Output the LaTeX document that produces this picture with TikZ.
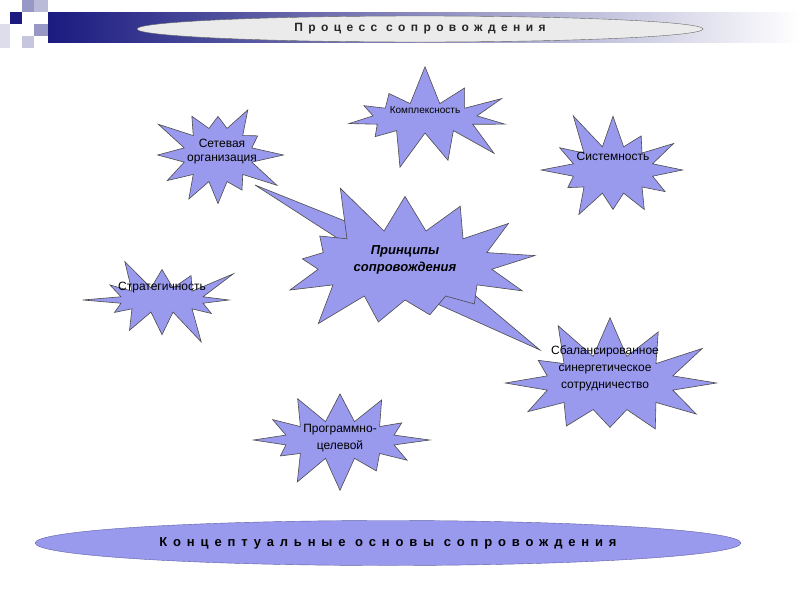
\documentclass[tikz,border=0pt]{standalone}
\usepackage{fontspec}
\setmainfont{Liberation Sans}
\newfontfamily\spaced[LetterSpace=45]{Liberation Sans}
\usetikzlibrary{shapes.symbols,shapes.geometric,calc}
\definecolor{starfill}{HTML}{9999EE}
\definecolor{navy}{HTML}{1A1A80}
\tikzset{
  burst/.style={starburst, fill=starfill, draw=black!70, line width=0.6pt, inner sep=0pt},
  lbl/.style={align=center, font=\fontsize{12}{14}\selectfont, text=black},
  spike/.style={fill=starfill, draw=black!70, line width=0.6pt},
}
\begin{document}
\begin{tikzpicture}[x=1pt,y=-1pt]
\useasboundingbox (0,0) rectangle (800,600);
\fill[white] (0,0) rectangle (800,600);
% header bar
\shade[left color=navy, right color=white] (48,12) rectangle (800,42);
\fill[navy] (10,12) rectangle (22,24);
\fill[navy!45] (22,0) rectangle (34,12);
\fill[navy!30] (34,0) rectangle (48,12);
\fill[navy!45] (34,24) rectangle (48,36);
\fill[navy!25] (22,36) rectangle (34,48);
\fill[navy!15] (0,24) rectangle (10,48);
\node[ellipse, draw=black!60, fill=black!8, minimum width=566pt, minimum height=26pt, inner sep=0pt] (top) at (420,29) {};
\node[font=\spaced\bfseries\fontsize{12}{14}\selectfont, text=black!85] at (top) {Процесс сопровождения};
% spikes
\coordinate (c) at (405,265);
\coordinate (s1) at (255,185);
\coordinate (s2) at (540,350);
\fill[spike] ($(c)+(-5,-22)$) -- (s1) -- ($(c)+(5,20)$) -- cycle;
\fill[spike] ($(c)+(10,-20)$) -- (s2) -- ($(c)+(-10,20)$) -- cycle;
% stars
\node[burst, starburst points=12, starburst point height=35pt, minimum width=140pt, minimum height=125pt, random starburst=3] (seti) at (218,155) {};
\node[burst, starburst points=11, starburst point height=40pt, minimum width=185pt, minimum height=110pt, random starburst=7] (kompl) at (425,118) {};
\node[burst, starburst points=12, starburst point height=40pt, minimum width=162pt, minimum height=128pt, random starburst=11] (sist) at (613,170) {};
\node[burst, starburst points=13, starburst point height=55pt, minimum width=285pt, minimum height=180pt, random starburst=5] (princ) at (c) {};
\node[burst, starburst points=12, starburst point height=40pt, minimum width=165pt, minimum height=105pt, random starburst=9] (strat) at (162,300) {};
\node[burst, starburst points=12, starburst point height=45pt, minimum width=220pt, minimum height=145pt, random starburst=4] (sbal) at (610,383) {};
\node[burst, starburst points=12, starburst point height=40pt, minimum width=192pt, minimum height=118pt, random starburst=8] (prog) at (340,440) {};
% labels
\node[lbl] at (222,152) {Сетевая\\организация};
\node[lbl, font=\fontsize{10}{12}\selectfont] at (425,110) {Комплексность};
\node[lbl] at (613,156) {Системность};
\node[lbl, font=\bfseries\itshape\fontsize{13}{17}\selectfont] at (405,260) {Принципы\\сопровождения};
\node[lbl] at (162,288) {Стратегичность};
\node[lbl, font=\fontsize{12}{17}\selectfont] at (605,368) {Сбалансированное\\синергетическое\\сотрудничество};
\node[lbl, font=\fontsize{12}{17}\selectfont] at (340,438) {Программно-\\целевой};
% bottom
\node[ellipse, draw=navy!70, fill=starfill, minimum width=706pt, minimum height=45pt, inner sep=0pt] (bot) at (388,543) {};
\node[font=\spaced\bfseries\fontsize{13}{15}\selectfont, text=black] at (bot) {Концептуальные основы сопровождения};
\end{tikzpicture}
\end{document}
